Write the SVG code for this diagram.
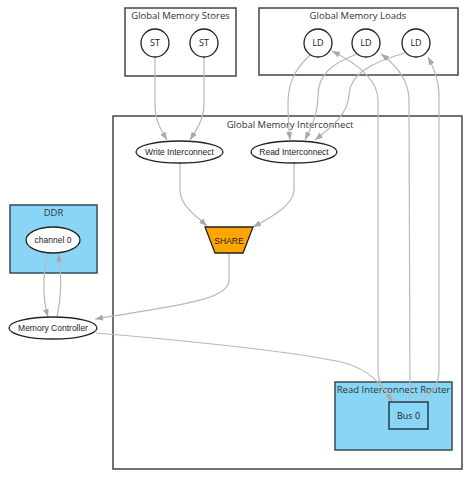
<svg xmlns="http://www.w3.org/2000/svg" width="474" height="479" viewBox="0 0 474 479">
<defs>
<style>
.cl{fill:none;stroke:#444;stroke-width:1.5}
.clb{fill:#88d5f5;stroke:#3a4a55;stroke-width:1.5}
.ct{font-family:"Open Sans","DejaVu Sans",sans-serif;font-size:9.5px;fill:#333;text-anchor:middle}
.nd{fill:#fff;stroke:#222;stroke-width:1.3}
.nt{font-family:"Liberation Sans",Arial,sans-serif;font-size:8.5px;fill:#222;text-anchor:middle}
.ns{font-family:"Open Sans","DejaVu Sans",sans-serif;font-size:9px;fill:#222;text-anchor:middle}
.e{fill:none;stroke:#b8b8b8;stroke-width:1.2}
</style>
<marker id="ah" markerWidth="8" markerHeight="6" refX="8" refY="3" orient="auto" markerUnits="userSpaceOnUse">
<path d="M0,0 L8,3 L0,6 z" fill="#a8a8a8"/>
</marker>
</defs>
<rect width="474" height="479" fill="#fff"/>

<g id="cluster-stores">
<rect class="cl" x="125" y="8" width="111" height="68"/>
<text class="ct" x="180.5" y="19">Global Memory Stores</text>
</g>
<g id="cluster-loads">
<rect class="cl" x="259" y="8" width="199" height="67"/>
<text class="ct" x="358" y="19">Global Memory Loads</text>
</g>
<g id="cluster-interconnect">
<rect class="cl" x="113" y="116" width="349" height="353"/>
<text class="ct" x="290" y="128">Global Memory Interconnect</text>
</g>
<g id="cluster-ddr">
<rect class="clb" x="10" y="205" width="87" height="68"/>
<text class="ct" x="53.5" y="216">DDR</text>
</g>
<g id="cluster-router">
<rect class="clb" x="335" y="382" width="117" height="68"/>
<text class="ct" x="393.5" y="393">Read Interconnect Router</text>
</g>

<g id="connectors">
<path class="e" marker-end="url(#ah)" d="M155,57 L155,105 C155,120 161,130 167,140"/>
<path class="e" marker-end="url(#ah)" d="M204,57 L204,105 C204,120 196,130 190,140"/>
<path class="e" marker-end="url(#ah)" d="M310,55 C294,70 288,84 288,104 C288,120 289,130 290,140"/>
<path class="e" marker-end="url(#ah)" d="M357,54 C330,64 318,76 318,96 C318,115 311,127 305,140"/>
<path class="e" marker-end="url(#ah)" d="M405,53 C372,62 350,74 349,95 C348,115 330,128 315,140"/>
<path class="e" marker-end="url(#ah)" d="M397,402 C385,392 378,385 378,370 L378,100 C378,80 356,63 332,51"/>
<path class="e" marker-end="url(#ah)" d="M410,402 L409,100 C409,80 396,65 381,54"/>
<path class="e" marker-end="url(#ah)" d="M420,402 C433,392 439,385 439,370 L439,95 C439,80 434,68 428,57"/>
<path class="e" marker-end="url(#ah)" d="M180,163 L180,190 C180,205 195,215 207,226"/>
<path class="e" marker-end="url(#ah)" d="M294,163 L294,190 C294,205 270,218 253,227"/>
<path class="e" marker-end="url(#ah)" d="M229,253 L229,280 C229,300 180,305 95,319"/>
<path class="e" marker-end="url(#ah)" d="M96,333 C180,340 300,352 345,363 C370,370 383,385 392,402"/>
<path class="e" marker-end="url(#ah)" d="M48,253 C42,275 43,300 48,317"/>
<path class="e" marker-end="url(#ah)" d="M57,317 C62,295 62,275 58,254"/>
</g>

<g id="st1"><circle class="nd" cx="155" cy="43" r="14"/><text class="ns" x="155" y="46">ST</text></g>
<g id="st2"><circle class="nd" cx="204" cy="43" r="14"/><text class="ns" x="204" y="46">ST</text></g>
<g id="ld1"><circle class="nd" cx="318" cy="43" r="14"/><text class="ns" x="318" y="46">LD</text></g>
<g id="ld2"><circle class="nd" cx="366" cy="43" r="14"/><text class="ns" x="366" y="46">LD</text></g>
<g id="ld3"><circle class="nd" cx="416" cy="43" r="14"/><text class="ns" x="416" y="46">LD</text></g>
<g id="write-interconnect"><ellipse class="nd" cx="179.5" cy="152" rx="43.5" ry="11"/><text class="nt" x="179.5" y="155">Write Interconnect</text></g>
<g id="read-interconnect"><ellipse class="nd" cx="294" cy="152" rx="43" ry="11"/><text class="nt" x="294" y="155">Read Interconnect</text></g>
<g id="share"><polygon points="205,227 253,227 243,253 215,253" fill="#ffa500" stroke="#222" stroke-width="1.3"/><text class="nt" x="229" y="244">SHARE</text></g>
<g id="memory-controller"><ellipse class="nd" cx="53" cy="328" rx="44" ry="11"/><text class="nt" x="53" y="331">Memory Controller</text></g>
<g id="channel0"><ellipse class="nd" cx="53" cy="240" rx="27" ry="13"/><text class="nt" x="53" y="243">channel 0</text></g>
<g id="bus0"><rect x="389" y="402" width="39" height="27" fill="#88d5f5" stroke="#2c3a45" stroke-width="1.5"/><text class="ns" x="408.5" y="419">Bus 0</text></g>
</svg>
